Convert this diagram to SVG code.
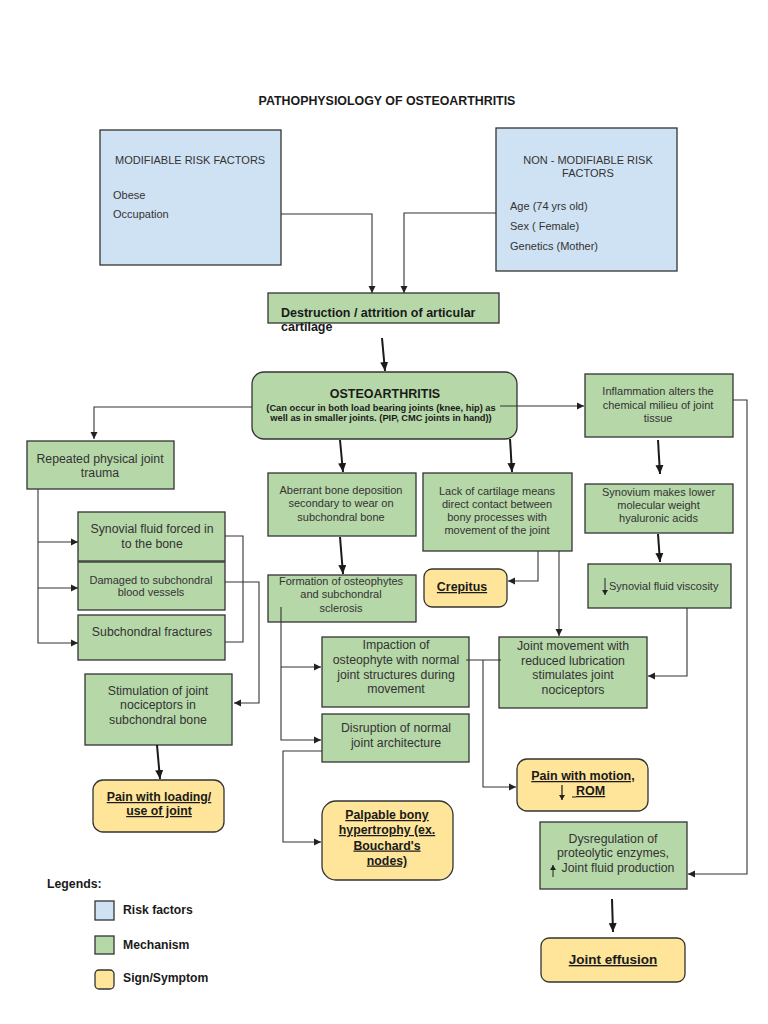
<svg xmlns="http://www.w3.org/2000/svg" width="768" height="1024" viewBox="0 0 768 1024">
<style>
text{font-family:"Liberation Sans",Arial,sans-serif;fill:#333}
.m{text-anchor:middle}
.s11{font-size:11px}
.s12{font-size:12.3px}
.b{font-weight:bold;fill:#1a1a1a}
.u{text-decoration:underline}
.blue{fill:#cfe2f3;stroke:#333;stroke-width:1.3}
.green{fill:#b6d7a8;stroke:#333;stroke-width:1.3}
.yel{fill:#ffe599;stroke:#333;stroke-width:1.3}
.c{fill:none;stroke:#333;stroke-width:1.1}
.k{fill:none;stroke:#1a1a1a;stroke-width:2}
</style>
<defs>
<marker id="a" markerWidth="8" markerHeight="8" refX="7" refY="4" orient="auto" markerUnits="userSpaceOnUse"><path d="M0,0.5 L7,4 L0,7.5 z" fill="#222"/></marker>
<marker id="b" markerWidth="10" markerHeight="10" refX="9" refY="5" orient="auto" markerUnits="userSpaceOnUse"><path d="M0,1 L9,5 L0,9 z" fill="#1a1a1a"/></marker>
<marker id="s" markerWidth="6" markerHeight="6" refX="5" refY="3" orient="auto" markerUnits="userSpaceOnUse"><path d="M0,0 L5,3 L0,6 z" fill="#222"/></marker>
</defs>

<text x="387" y="105" class="m b" style="font-size:12.4px">PATHOPHYSIOLOGY OF OSTEOARTHRITIS</text>

<g id="modifiable">
<rect x="100" y="130" width="181" height="135" class="blue"/>
<text x="115" y="164" class="s11">MODIFIABLE RISK FACTORS</text>
<text x="113" y="199" class="s11">Obese</text>
<text x="113" y="218" class="s11">Occupation</text>
</g>

<g id="nonmodifiable">
<rect x="496" y="128" width="181" height="143" class="blue"/>
<text x="588" y="164" class="m s11">NON - MODIFIABLE RISK</text>
<text x="588" y="177" class="m s11">FACTORS</text>
<text x="510" y="210" class="s11">Age (74 yrs old)</text>
<text x="510" y="230" class="s11">Sex ( Female)</text>
<text x="510" y="250" class="s11">Genetics (Mother)</text>
</g>

<g id="destruction">
<rect x="268" y="293" width="231" height="30" class="green"/>
<text x="281" y="317" class="b" style="font-size:12.5px">Destruction / attrition of articular</text>
<text x="281" y="331" class="b" style="font-size:12.5px">cartilage</text>
</g>

<g id="oa">
<rect x="252" y="372" width="265" height="67" rx="12" class="green"/>
<text x="385" y="398" class="m b" style="font-size:12.5px">OSTEOARTHRITIS</text>
<text x="381" y="411" class="m b" style="font-size:9.3px">(Can occur in both load bearing joints (knee, hip) as</text>
<text x="381" y="421" class="m b" style="font-size:9.3px">well as in smaller joints. (PIP, CMC joints in hand))</text>
</g>

<g id="repeated">
<rect x="27" y="441" width="147" height="48" class="green"/>
<text x="100" y="463" class="m s12">Repeated physical joint</text>
<text x="100" y="477" class="m s12">trauma</text>
</g>

<g id="synfluid">
<rect x="78" y="512" width="147" height="49" class="green"/>
<text x="152" y="533" class="m s12">Synovial fluid forced in</text>
<text x="152" y="548" class="m s12">to the bone</text>
</g>

<g id="damaged">
<rect x="78" y="562" width="147" height="48" class="green"/>
<text x="151" y="584" class="m s11">Damaged to subchondral</text>
<text x="151" y="596" class="m s11">blood vessels</text>
</g>

<g id="fractures">
<rect x="78" y="615" width="147" height="45" class="green"/>
<text x="152" y="636" class="m s12">Subchondral fractures</text>
</g>

<g id="stimulation">
<rect x="85" y="674" width="147" height="71" class="green"/>
<text x="158" y="695" class="m s12">Stimulation of joint</text>
<text x="158" y="709" class="m s12">nociceptors in</text>
<text x="158" y="724" class="m s12">subchondral bone</text>
</g>

<g id="painloading">
<rect x="93" y="780" width="131" height="52" rx="10" class="yel"/>
<text x="159" y="801" class="m b u" style="font-size:12.3px">Pain with loading/</text>
<text x="159" y="815" class="m b u" style="font-size:12.3px">use of joint</text>
</g>

<g id="aberrant">
<rect x="268" y="473" width="148" height="63" class="green"/>
<text x="341" y="494" class="m s11">Aberrant bone deposition</text>
<text x="341" y="507" class="m s11">secondary to wear on</text>
<text x="341" y="521" class="m s11">subchondral bone</text>
</g>

<g id="formation">
<rect x="268" y="575" width="148" height="47" class="green"/>
<text x="341" y="584.5" class="m s11">Formation of osteophytes</text>
<text x="341" y="598" class="m s11">and subchondral</text>
<text x="341" y="611.5" class="m s11">sclerosis</text>
</g>

<g id="lack">
<rect x="423" y="473" width="149" height="78" class="green"/>
<text x="497" y="495" class="m s11">Lack of cartilage means</text>
<text x="497" y="508" class="m s11">direct contact between</text>
<text x="497" y="521" class="m s11">bony processes with</text>
<text x="497" y="534" class="m s11">movement of the joint</text>
</g>

<g id="crepitus">
<rect x="424" y="569" width="83" height="38" rx="8" class="yel"/>
<text x="462" y="591" class="m b u" style="font-size:12.4px">Crepitus</text>
</g>

<g id="impaction">
<rect x="322" y="637" width="147" height="70" class="green"/>
<text x="396" y="649" class="m s12">Impaction of</text>
<text x="396" y="664" class="m s12">osteophyte with normal</text>
<text x="396" y="679" class="m s12">joint structures during</text>
<text x="396" y="693" class="m s12">movement</text>
</g>

<g id="disruption">
<rect x="322" y="714" width="147" height="48" class="green"/>
<text x="396" y="732" class="m s12">Disruption of normal</text>
<text x="396" y="747" class="m s12">joint architecture</text>
</g>

<g id="palpable">
<rect x="322" y="801" width="131" height="79" rx="14" class="yel"/>
<text x="387" y="819" class="m b u" style="font-size:12.3px">Palpable bony</text>
<text x="387" y="834" class="m b u" style="font-size:12.3px">hypertrophy (ex.</text>
<text x="387" y="849.5" class="m b u" style="font-size:12.3px">Bouchard's</text>
<text x="387" y="864.5" class="m b u" style="font-size:12.3px">nodes)</text>
</g>

<g id="inflammation">
<rect x="585" y="374" width="148" height="63" class="green"/>
<text x="658" y="395" class="m s11">Inflammation alters the</text>
<text x="658" y="408.5" class="m s11">chemical milieu of joint</text>
<text x="658" y="421.5" class="m s11">tissue</text>
</g>

<g id="synovium">
<rect x="585" y="484" width="148" height="49" class="green"/>
<text x="658.5" y="496" class="m s11">Synovium makes lower</text>
<text x="658.5" y="509" class="m s11">molecular weight</text>
<text x="658.5" y="522" class="m s11">hyaluronic acids</text>
</g>

<g id="viscosity">
<rect x="588" y="564" width="143" height="44" class="green"/>
<line x1="605" y1="578" x2="605" y2="595" stroke="#222" stroke-width="1" marker-end="url(#s)"/>
<text x="609" y="590" class="s11">Synovial fluid viscosity</text>
</g>

<g id="jointmovement">
<rect x="499" y="637" width="148" height="71" class="green"/>
<text x="573" y="650" class="m s12">Joint movement with</text>
<text x="573" y="664.5" class="m s12">reduced lubrication</text>
<text x="573" y="679" class="m s12">stimulates joint</text>
<text x="573" y="693.5" class="m s12">nociceptors</text>
</g>

<g id="painmotion">
<rect x="517" y="759" width="131" height="52" rx="10" class="yel"/>
<text x="583" y="780" class="m b u" style="font-size:12.5px">Pain with motion,</text>
<line x1="562" y1="785" x2="562" y2="800" stroke="#1a1a1a" stroke-width="1.2" marker-end="url(#s)"/>
<line x1="572" y1="797" x2="576" y2="797" stroke="#1a1a1a" stroke-width="1"/>
<text x="576" y="795" class="b u" style="font-size:12.5px">ROM</text>
</g>

<g id="dysregulation">
<rect x="540" y="822" width="147" height="67" class="green"/>
<text x="613" y="843" class="m s12">Dysregulation of</text>
<text x="613" y="857" class="m s12">proteolytic enzymes,</text>
<line x1="553" y1="877" x2="553" y2="865" stroke="#222" stroke-width="1" marker-end="url(#s)"/>
<text x="618" y="872" class="m s12">Joint fluid production</text>
</g>

<g id="effusion">
<rect x="541" y="938" width="144" height="44" rx="8" class="yel"/>
<text x="613" y="964" class="m b u" style="font-size:13.5px">Joint effusion</text>
</g>

<g id="legend">
<text x="47" y="888" class="b" style="font-size:12.3px">Legends:</text>
<rect x="95" y="901" width="19" height="19" class="blue"/>
<text x="123" y="914" class="b" style="font-size:12.2px">Risk factors</text>
<rect x="95" y="936" width="19" height="18" class="green"/>
<text x="123" y="948.5" class="b" style="font-size:12.2px">Mechanism</text>
<rect x="95" y="970" width="19" height="19" rx="4" class="yel"/>
<text x="123" y="982" class="b" style="font-size:12.2px">Sign/Symptom</text>
</g>

<g id="connectors">
<path d="M281,214 H372 V293" class="c" marker-end="url(#a)"/>
<path d="M496,213 H404 V293" class="c" marker-end="url(#a)"/>
<path d="M382,338 L385,371" class="k" marker-end="url(#b)"/>
<path d="M252,407 H94 V439" class="c" marker-end="url(#a)"/>
<path d="M500,406 H584" class="c" marker-end="url(#a)"/>
<path d="M340,440 L343,472" class="k" marker-end="url(#b)"/>
<path d="M510,439 L512,472" class="k" marker-end="url(#b)"/>
<path d="M38,489 V643 H78" class="c" marker-end="url(#a)"/>
<path d="M38,542 H78" class="c" marker-end="url(#a)"/>
<path d="M38,588 H78" class="c" marker-end="url(#a)"/>
<path d="M225,536 H243 V642 H225" class="c"/>
<path d="M225,582 H259 V703 H234" class="c" marker-end="url(#a)"/>
<path d="M157,745 L160,779" class="k" marker-end="url(#b)"/>
<path d="M340,537 L343,574" class="k" marker-end="url(#b)"/>
<path d="M281,607 V740 H321" class="c" marker-end="url(#a)"/>
<path d="M281,667 H321" class="c" marker-end="url(#a)"/>
<path d="M322,751 H283 V842 H321" class="c" marker-end="url(#a)"/>
<path d="M538,551 V581 H508" class="c" marker-end="url(#a)"/>
<path d="M559,551 V636" class="c" marker-end="url(#a)"/>
<path d="M466,660 H501" class="c"/>
<path d="M483,660 V787 H516" class="c" marker-end="url(#a)"/>
<path d="M658,440 L660,474" class="k" marker-end="url(#b)"/>
<path d="M658,534 L660,562" class="k" marker-end="url(#b)"/>
<path d="M687,608 V676 H648" class="c" marker-end="url(#a)"/>
<path d="M733,400 H747 V874 H688" class="c" marker-end="url(#a)"/>
<path d="M612,899 L613,932" class="k" marker-end="url(#b)"/>
</g>
</svg>
